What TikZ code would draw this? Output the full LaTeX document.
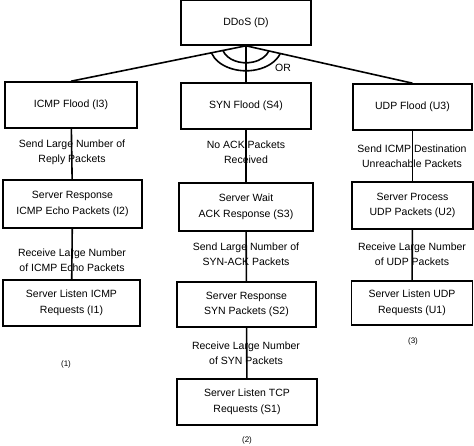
\documentclass[tikz,border=0pt]{standalone}
\usepackage{fontspec}
\setmainfont{Liberation Sans}
\usetikzlibrary{calc}
\begin{document}
\begin{tikzpicture}[x=1pt,y=-1pt,
    box/.style={draw,line width=1.6pt,inner sep=0pt,align=center,font=\fontsize{10.5}{15.5}\selectfont},
    lbl/.style={inner sep=0pt,align=center,font=\fontsize{10.5}{15}\selectfont},
    tag/.style={inner sep=0pt,font=\fontsize{8}{9}\selectfont},
    link/.style={line width=1.6pt}]
    \useasboundingbox (0,0) rectangle (474,445);

    % Root
    \node[box,minimum width=130pt,minimum height=45pt] (D) at (246,22.5) {DDoS (D)};

    % ICMP branch
    \node[box,minimum width=132pt,minimum height=46pt] (I3) at (71,105) {ICMP Flood (I3)};
    \node[box,minimum width=139pt,minimum height=48pt] (I2) at (72.5,204) {Server Response\\ICMP Echo Packets (I2)};
    \node[box,minimum width=137pt,minimum height=46pt] (I1) at (71.5,303) {Server Listen ICMP\\Requests (I1)};

    % SYN branch
    \node[box,minimum width=130pt,minimum height=46pt] (S4) at (246,106) {SYN Flood (S4)};
    \node[box,minimum width=134pt,minimum height=48pt] (S3) at (246,207) {Server Wait\\ACK Response (S3)};
    \node[box,minimum width=139pt,minimum height=45pt] (S2) at (246.5,304.5) {Server Response\\SYN Packets (S2)};
    \node[box,minimum width=140pt,minimum height=46pt] (S1) at (247,402) {Server Listen TCP\\Requests (S1)};

    % UDP branch
    \node[box,minimum width=119pt,minimum height=46pt] (U3) at (412.5,107) {UDP Flood (U3)};
    \node[box,minimum width=121pt,minimum height=47pt] (U2) at (412.5,205.5) {Server Process\\UDP Packets (U2)};
    \node[box,minimum width=121pt,minimum height=44pt] (U1) at (412,303) {Server Listen UDP\\Requests (U1)};

    % Edge labels
    \node[lbl] (lI32) at (72,152.5) {Send Large Number of\\Reply Packets};
    \node[lbl] (lI21) at (72,260.5) {Receive Large Number\\of ICMP Echo Packets};
    \node[lbl] (lS43) at (246,152.5) {No ACK Packets\\Received};
    \node[lbl] (lS32) at (246,254.5) {Send Large Number of\\SYN-ACK Packets};
    \node[lbl] (lS21) at (246,353.5) {Receive Large Number\\of SYN Packets};
    \node[lbl] (lU32) at (412,156.5) {Send ICMP Destination\\Unreachable Packets};
    \node[lbl] (lU21) at (412,254.5) {Receive Large Number\\of UDP Packets};

    % Branch tags
    \node[tag] (t1) at (66,364) {(1)};
    \node[tag] (t2) at (247,440) {(2)};
    \node[tag] (t3) at (413,341) {(3)};

    % OR gate
    \coordinate (apex) at (D.south);
    \draw[link] (apex) -- (I3.north);
    \draw[link] (apex) -- (S4.north);
    \draw[link] (apex) -- (U3.north);
    \draw[link] ($(apex)+(197:24pt and 17pt)$) arc[start angle=197,end angle=342,x radius=24pt,y radius=17pt];
    \draw[link] ($(apex)+(197:36pt and 25pt)$) arc[start angle=197,end angle=342,x radius=36pt,y radius=25pt];
    \node[lbl] (or) at (283,68) {OR};

    % Chains
    \draw[link] (I3) -- (I2);
    \draw[link] (I2) -- (I1);
    \draw[link] (S4) -- (S3);
    \draw[link] (S3) -- (S2);
    \draw[link] (S2) -- (S1);
    \draw[link] (U3) -- (U2);
    \draw[link] (U2) -- (U1);

\end{tikzpicture}
\end{document}
